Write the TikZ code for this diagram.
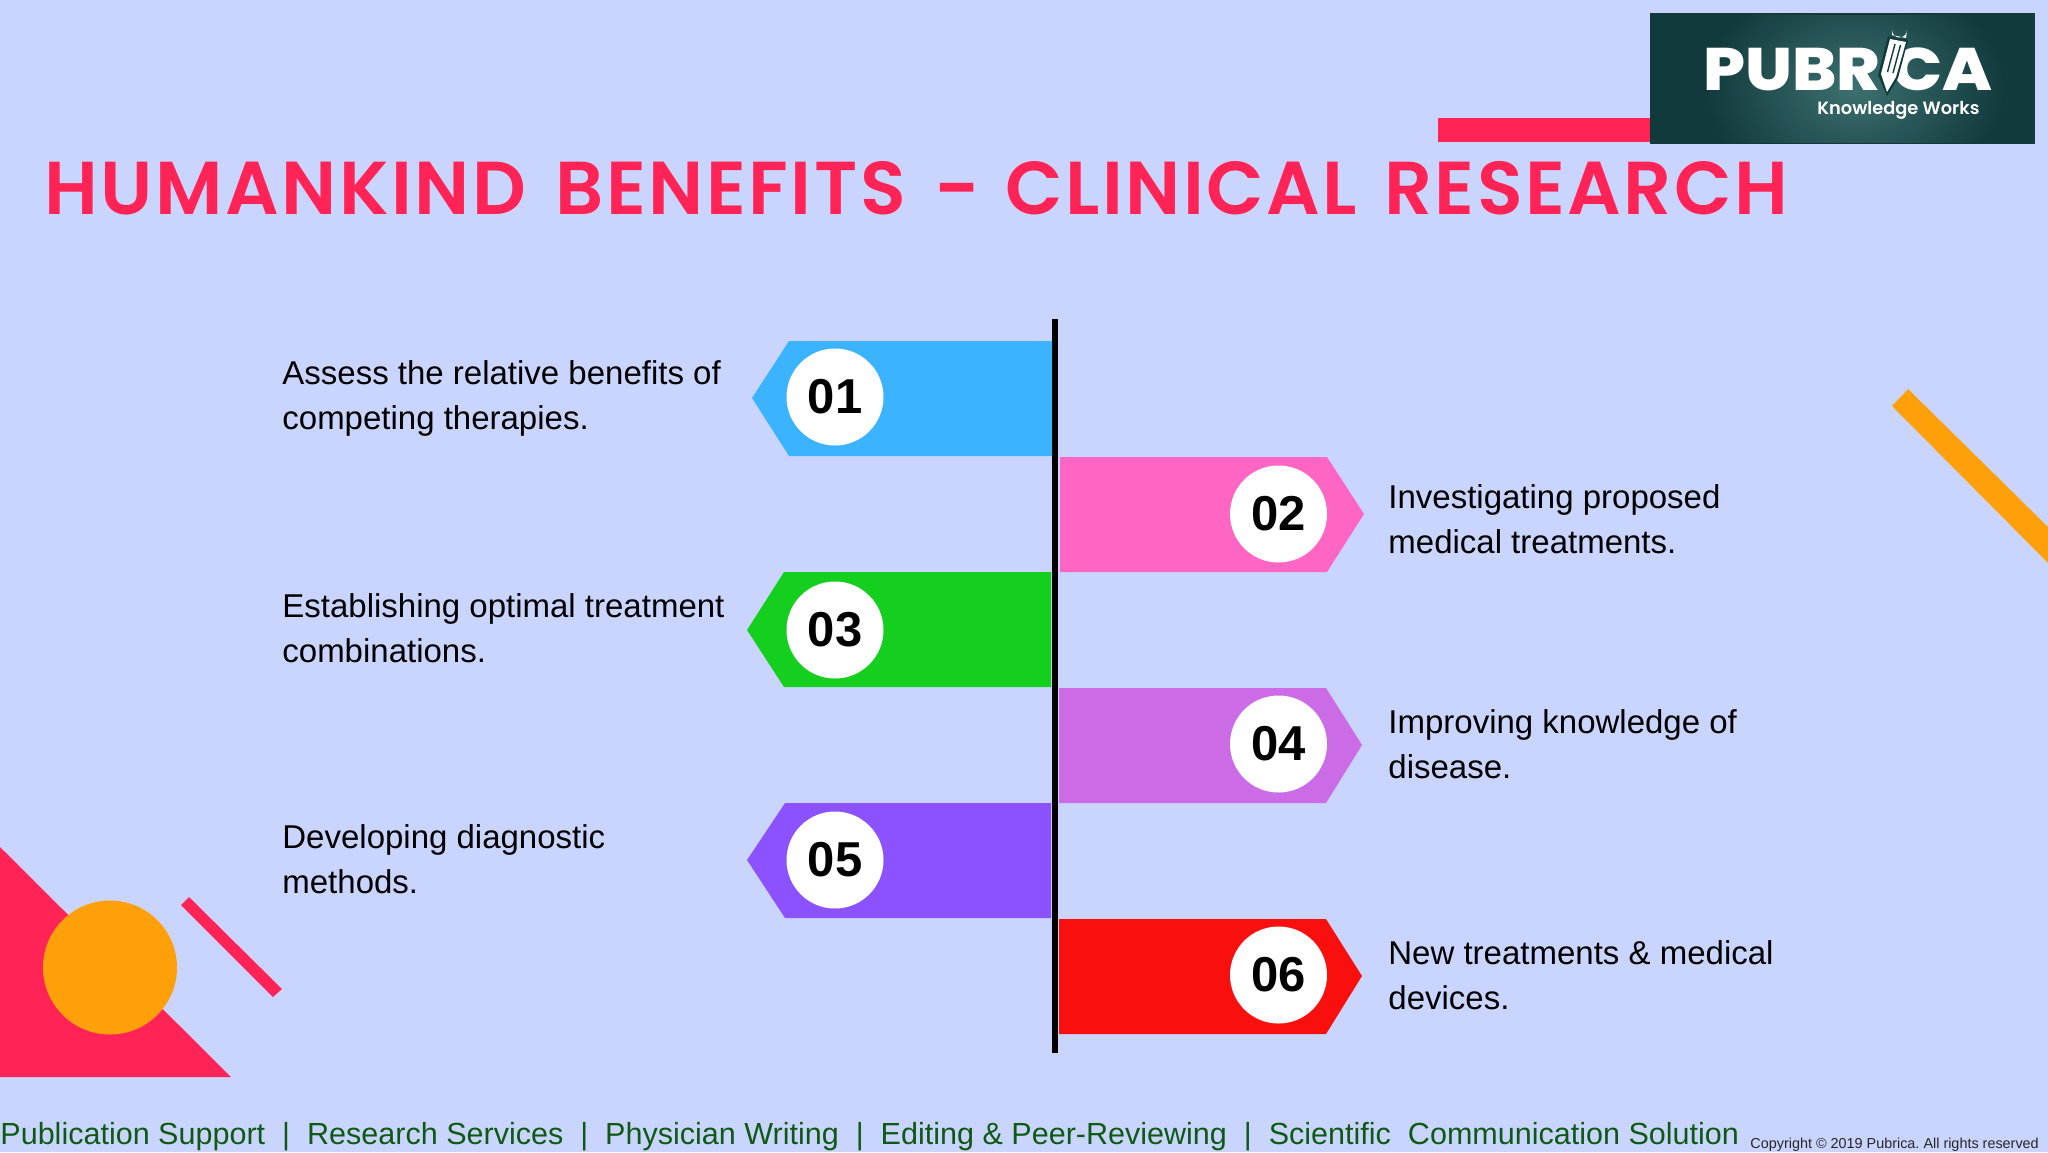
\documentclass[tikz,border=0pt]{standalone}
\usepackage{fontspec}
\setmainfont{Liberation Sans}
\frenchspacing
\newfontfamily\popfont[LetterSpace=3.3]{Poppins SemiBold}
\newfontfamily\logofont[FakeStretch=1.1]{Poppins ExtraBold}
\newfontfamily\logosub{Poppins SemiBold}
\definecolor{bgc}{HTML}{CAD5FF}
\definecolor{redc}{HTML}{FF2455}
\definecolor{orangec}{HTML}{FFA00A}
\definecolor{footc}{HTML}{0E5A14}
\definecolor{logod}{HTML}{123A3D}
\definecolor{logol}{HTML}{3D7070}
\definecolor{c1}{HTML}{3BB3FF}
\definecolor{c2}{HTML}{FF66C4}
\definecolor{c3}{HTML}{14CF1E}
\definecolor{c4}{HTML}{CB6CE6}
\definecolor{c5}{HTML}{8C52FF}
\definecolor{c6}{HTML}{FA0F0F}
\tikzset{
  numdisc/.style={circle,fill=white,minimum size=48.5pt,inner sep=0pt,font=\bfseries\fontsize{24.5}{28}\selectfont},
  bodytxt/.style={anchor=base west,inner sep=0pt,font=\fontsize{16.5}{20}\selectfont},
  foot/.style={anchor=base west,inner sep=0pt,text=footc,font=\fontsize{15.27}{18}\selectfont},
  logotxt/.style={anchor=base west,inner sep=0pt,text=white,font=\logofont\fontsize{30}{34}\selectfont},
}
\begin{document}
\begin{tikzpicture}[x=0.5pt,y=-0.5pt]
\useasboundingbox (0,0) rectangle (2048,1152);
\fill[bgc] (0,0) rectangle (2048,1152);
% deco
\fill[redc] (1438,118) rectangle (1650,142);
\fill[redc] (0,847) -- (0,1077) -- (231,1077) -- cycle;
\fill[orangec] (110,967.5) circle (67);
\fill[redc] (189,897) -- (181,905) -- (273,997) -- (282,989) -- cycle;
\fill[orangec] (1892,406) -- (1908,389) -- (2048,527) -- (2048,563) -- cycle;
% logo
\fill[logod] (1650,13) rectangle (2035,144);
\begin{scope}
\clip (1652,15) rectangle (2033,142);
\shade[inner color=logol,outer color=logod] (1855,88) ellipse (150 and 115);
\end{scope}
\node[logotxt] (logoa) at (1703,90) {PUBR};
\node[logotxt] (logob) at (1892,90) {CA};
\node[anchor=base west,inner sep=0pt,text=white,font=\logosub\fontsize{8.9}{11}\selectfont] (logoc) at (1817,114) {Knowledge Works};
% pencil
\fill[logod] (1888,36) -- (1908,40) -- (1898,78) -- (1887,96) -- (1878,75) -- cycle;
\fill[white] (1890,39) -- (1906,42) -- (1896,77) -- (1887,92) -- (1881,74) -- cycle;
\draw[logod,line width=0.7pt] (1895,44) -- (1887.5,72) (1900.5,45) -- (1893,73);
\fill[white] (1892,35) -- (1906,38) -- (1907,30) arc (0:180:7.5) -- cycle;
% title
\node[anchor=base west,inner sep=0pt,text=redc,font=\popfont\fontsize{37.5}{40}\selectfont] (title) at (44,214) {HUMANKIND\hspace{4.7pt} BENEFITS\hspace{4.6pt} \scalebox{0.82}[1]{–}\hspace{3.4pt} CLINICAL\hspace{3.3pt} RESEARCH};
% spine
\fill[black] (1052,319) rectangle (1058,1053);
% arrows
\fill[c1] (1052,341) -- (789,341) -- (752,398) -- (789,456) -- (1052,456) -- cycle;
\fill[c2] (1060,457) -- (1327,457) -- (1364,514) -- (1327,572) -- (1060,572) -- cycle;
\fill[c3] (1051,572) -- (784,572) -- (747,630) -- (784,687) -- (1051,687) -- cycle;
\fill[c4] (1059,688) -- (1326,688) -- (1362,745) -- (1326,803) -- (1059,803) -- cycle;
\fill[c5] (1051,803) -- (785,803) -- (747,860) -- (785,918) -- (1051,918) -- cycle;
\fill[c6] (1059,919) -- (1326,919) -- (1362,976) -- (1326,1034) -- (1059,1034) -- cycle;
% discs
\node[numdisc] (n1) at (835,397) {01};
\node[numdisc] (n2) at (1278.5,514) {\raisebox{0.6pt}{02}};
\node[numdisc] (n3) at (835,630) {\raisebox{0.6pt}{03}};
\node[numdisc] (n4) at (1278.5,744) {04};
\node[numdisc] (n5) at (835,860) {\raisebox{0.6pt}{05}};
\node[numdisc] (n6) at (1278.5,975) {06};
% text
\node[bodytxt] (t1a) at (282,384) {Assess the relative benefits of};
\node[bodytxt] (t1b) at (282,429) {competing therapies.};
\node[bodytxt] (t2a) at (1388,508.5) {Investigating proposed};
\node[bodytxt] (t2b) at (1388,553.5) {medical treatments.};
\node[bodytxt] (t3a) at (282,617) {Establishing optimal treatment};
\node[bodytxt] (t3b) at (282,662) {combinations.};
\node[bodytxt] (t4a) at (1388,733) {Improving knowledge of};
\node[bodytxt] (t4b) at (1388,778) {disease.};
\node[bodytxt] (t5a) at (282,848) {Developing diagnostic};
\node[bodytxt] (t5b) at (282,893) {methods.};
\node[bodytxt] (t6a) at (1388,964) {New treatments \& medical};
\node[bodytxt] (t6b) at (1388,1009) {devices.};
% footer
\node[foot] (foot) at (0,1144) {Publication Support\ \ |\ \ Research Services\ \ |\ \ Physician Writing\ \ |\ \ Editing \& Peer-Reviewing\ \ |\ \ Scientific\ \ Communication Solution};
\node[anchor=base west,inner sep=0pt,text=black!85,font=\fontsize{7.2}{9}\selectfont] (copy) at (1750,1148) {Copyright © 2019 Pubrica. All rights reserved};
\end{tikzpicture}
\end{document}
